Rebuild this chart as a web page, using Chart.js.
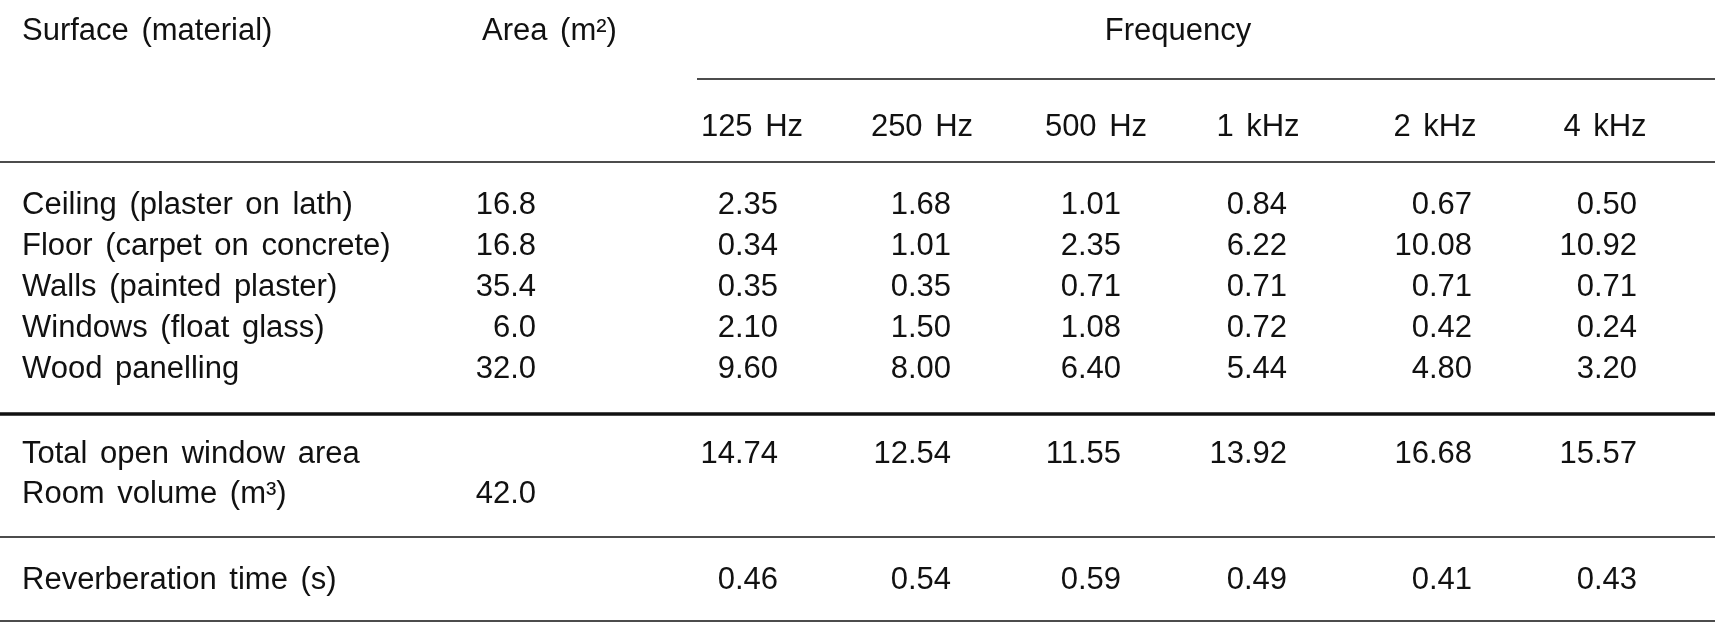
<!DOCTYPE html>
<html>
<head>
<meta charset="utf-8">
<script src="https://cdn.jsdelivr.net/npm/chart.js@4"></script>
<style>
  html, body { margin: 0; padding: 0; background: #fff; }
  canvas { display: block; }
</style>
</head>
<body>
<canvas id="table" width="1715" height="624"></canvas>
<script>
// table data
const frequencies = ['125 Hz', '250 Hz', '500 Hz', '1 kHz', '2 kHz', '4 kHz'];
const surfaces = ['Ceiling (plaster on lath)', 'Floor (carpet on concrete)', 'Walls (painted plaster)', 'Windows (float glass)', 'Wood panelling'];
const areas = ['16.8', '16.8', '35.4', '6.0', '32.0'];
const absorption = [
  ['2.35', '1.68', '1.01', '0.84', '0.67', '0.50'],
  ['0.34', '1.01', '2.35', '6.22', '10.08', '10.92'],
  ['0.35', '0.35', '0.71', '0.71', '0.71', '0.71'],
  ['2.10', '1.50', '1.08', '0.72', '0.42', '0.24'],
  ['9.60', '8.00', '6.40', '5.44', '4.80', '3.20'],
];
const totalOpenWindow = ['14.74', '12.54', '11.55', '13.92', '16.68', '15.57'];
const roomVolume = '42.0';
const reverbTime = ['0.46', '0.54', '0.59', '0.49', '0.41', '0.43'];

// layout (in scale units = pixels)
const colRight = [778, 951, 1121, 1287, 1472, 1637];
const headCenter = [752, 922, 1096, 1258, 1435, 1605];
const rowY = [205, 246, 287, 328, 369];
const FONT = '31px "Liberation Sans Narrow", "Liberation Sans", sans-serif';

const tablePlugin = {
  id: 'tablePlugin',
  afterDraw(chart) {
    const { ctx, scales: { x, y } } = chart;
    const X = (v) => x.getPixelForValue(v);
    const Y = (v) => y.getPixelForValue(v);
    ctx.save();
    ctx.fillStyle = '#111';
    ctx.font = FONT;
    ctx.wordSpacing = '4px';
    ctx.textBaseline = 'middle';

    const text = (s, px, py, align) => {
      ctx.textAlign = align;
      ctx.fillText(s, X(px), Y(py));
    };
    const line = (x0, x1, py, w) => {
      ctx.beginPath();
      ctx.lineWidth = w;
      ctx.strokeStyle = '#111';
      ctx.moveTo(X(x0), Y(py));
      ctx.lineTo(X(x1), Y(py));
      ctx.stroke();
    };

    text('Surface (material)', 22, 31, 'left');
    text('Area (m²)', 482, 31, 'left');
    text('Frequency', 1178, 31, 'center');
    line(697, 1715, 79, 1.5);
    frequencies.forEach((f, i) => text(f, headCenter[i], 127, 'center'));
    line(0, 1715, 162, 1.5);

    surfaces.forEach((s, r) => {
      text(s, 22, rowY[r], 'left');
      text(areas[r], 536, rowY[r], 'right');
      absorption[r].forEach((v, c) => text(v, colRight[c], rowY[r], 'right'));
    });
    line(0, 1715, 414, 3.5);

    text('Total open window area', 22, 454, 'left');
    totalOpenWindow.forEach((v, c) => text(v, colRight[c], 454, 'right'));
    text('Room volume (m³)', 22, 494, 'left');
    text(roomVolume, 536, 494, 'right');
    line(0, 1715, 537, 1.5);

    text('Reverberation time (s)', 22, 580, 'left');
    reverbTime.forEach((v, c) => text(v, colRight[c], 580, 'right'));
    line(0, 1715, 621, 1.5);
    ctx.restore();
  }
};

new Chart(document.getElementById('table'), {
  type: 'scatter',
  data: { datasets: [{ data: [] }] },
  options: {
    responsive: false,
    animation: false,
    layout: { padding: 0 },
    plugins: { legend: { display: false }, tooltip: { enabled: false } },
    scales: {
      x: { type: 'linear', min: 0, max: 1715, display: false },
      y: { type: 'linear', min: 0, max: 624, reverse: true, display: false },
    },
  },
  plugins: [tablePlugin],
});
</script>
</body>
</html>
